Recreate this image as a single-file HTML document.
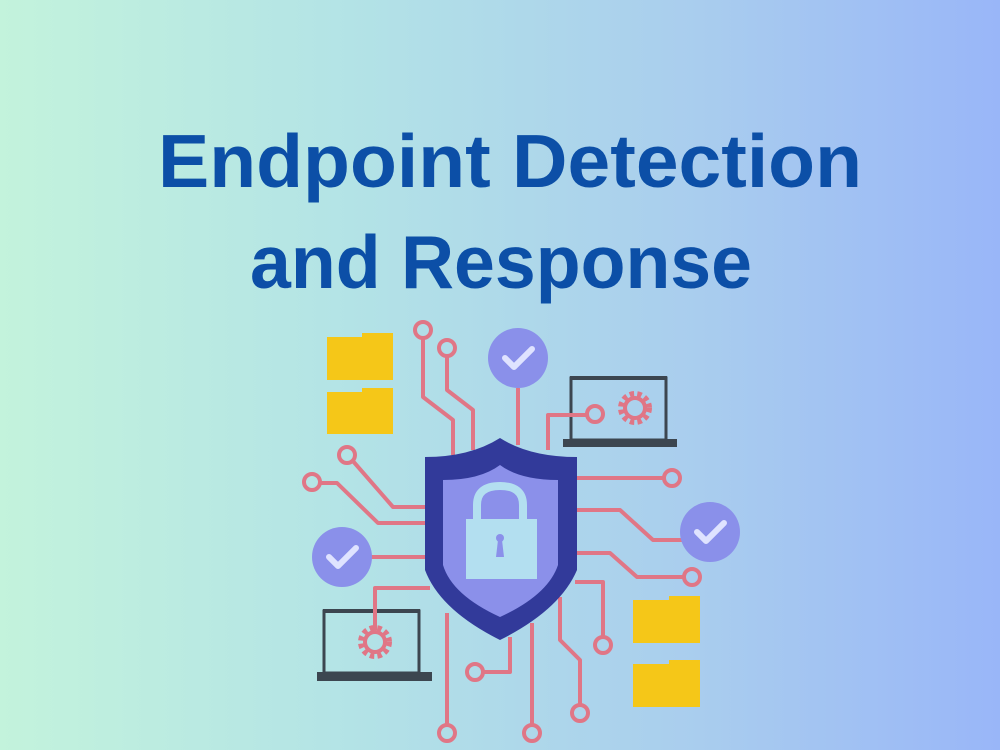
<!DOCTYPE html>
<html><head><meta charset="utf-8"><style>
html,body{margin:0;padding:0;}
body{width:1000px;height:750px;overflow:hidden;background:linear-gradient(90deg,#c3f3dc 0%,#b3e3e6 35%,#a9cdee 70%,#99b6f8 100%);}
svg{display:block}
</style></head><body>
<svg width="1000" height="750" viewBox="0 0 1000 750" xmlns="http://www.w3.org/2000/svg">
<g font-family="Liberation Sans, sans-serif" font-weight="bold" font-size="75" fill="#0c4fa7">
<text x="158" y="187" textLength="704" lengthAdjust="spacingAndGlyphs">Endpoint Detection</text>
<text x="250" y="288" textLength="502" lengthAdjust="spacingAndGlyphs">and Response</text>
</g>
<!-- folders -->
<g fill="#f5c718">
<rect x="327" y="337" width="66" height="43"/><rect x="362" y="333" width="31" height="6"/>
<rect x="327" y="392" width="66" height="42"/><rect x="362" y="388" width="31" height="6"/>
<rect x="633" y="600" width="67" height="43"/><rect x="669" y="596" width="31" height="6"/>
<rect x="633" y="664" width="67" height="43"/><rect x="669" y="660" width="31" height="6"/>
</g>
<!-- laptops -->
<g fill="none" stroke="#3c4650" stroke-width="3">
<rect x="571" y="378" width="95" height="62"/>
<rect x="324" y="611" width="95" height="62"/>
</g>
<g fill="#3c4650">
<rect x="563" y="439" width="114" height="8"/><rect x="570" y="376" width="97" height="4"/>
<rect x="317" y="672" width="115" height="9"/><rect x="323" y="609" width="97" height="4"/>
</g>
<!-- circuit lines -->
<g fill="none" stroke="#e07686" stroke-width="4" stroke-linejoin="round">
<polyline points="423,338 423,397 453,420 453,455"/>
<polyline points="447,356 447,390 473,410 473,450"/>
<polyline points="518,388 518,445"/>
<polyline points="548,450 548,415 587,415"/>
<polyline points="577,478 664,478"/>
<polyline points="577,510 620,510 653,540 690,540"/>
<polyline points="577,553 610,553 637,577 684,577"/>
<polyline points="575,582 603,582 603,637"/>
<polyline points="560,597 560,640 580,660 580,705"/>
<polyline points="532,623 532,725"/>
<polyline points="510,637 510,672 483,672"/>
<polyline points="447,613 447,725"/>
<polyline points="430,588 375,588 375,630"/>
<polyline points="425,557 360,557"/>
<polyline points="425,523 378,523 337,483 320,483"/>
<polyline points="425,507 393,507 352,460"/>
</g>
<g fill="none" stroke="#e07686" stroke-width="4">
<circle cx="423" cy="330" r="8"/><circle cx="447" cy="348" r="8"/>
<circle cx="595" cy="414" r="8"/><circle cx="672" cy="478" r="8"/>
<circle cx="692" cy="577" r="8"/><circle cx="603" cy="645" r="8"/>
<circle cx="580" cy="713" r="8"/><circle cx="532" cy="733" r="8"/>
<circle cx="475" cy="672" r="8"/><circle cx="447" cy="733" r="8"/>
<circle cx="312" cy="482" r="8"/><circle cx="347" cy="455" r="8"/>
</g>
<!-- gears -->
<g>
<circle cx="635" cy="408" r="13" fill="none" stroke="#e07686" stroke-width="8" stroke-dasharray="4 3"/>
<circle cx="635" cy="408" r="10" fill="none" stroke="#e07686" stroke-width="4"/>
<circle cx="375" cy="642" r="13" fill="none" stroke="#e07686" stroke-width="8" stroke-dasharray="4 3"/>
<circle cx="375" cy="642" r="10" fill="none" stroke="#e07686" stroke-width="4"/>
</g>
<!-- check circles -->
<g>
<circle cx="518" cy="358" r="30" fill="#8a90ea"/>
<circle cx="710" cy="532" r="30" fill="#8a90ea"/>
<circle cx="342" cy="557" r="30" fill="#8a90ea"/>
<g fill="none" stroke="#dfe3ff" stroke-width="6" stroke-linecap="round" stroke-linejoin="round">
<polyline points="505,358 514,367 532,349"/>
<polyline points="697,532 706,541 724,523"/>
<polyline points="329,557 338,566 356,548"/>
</g>
</g>
<!-- shield -->
<path d="M500,438 Q530,457 577,457 L577,570 Q560,610 500,640 Q440,610 425,570 L425,457 Q470,457 500,438Z" fill="#323a9a"/>
<path d="M500,465 Q520,480 558,480 L558,565 Q548,595 500,617 Q452,595 443,565 L443,480 Q480,480 500,465Z" fill="#8b90ea"/>
<!-- lock -->
<path d="M477,520 L477,505 Q477,486 500,486 Q523,486 523,505 L523,520" fill="none" stroke="#b3dff0" stroke-width="8"/>
<rect x="466" y="519" width="71" height="60" fill="#b3dff0"/>
<circle cx="500" cy="538" r="4" fill="#8b90ea"/>
<path d="M498,540 L502,540 L504,557 L496,557Z" fill="#8b90ea"/>
</svg>
</body></html>
